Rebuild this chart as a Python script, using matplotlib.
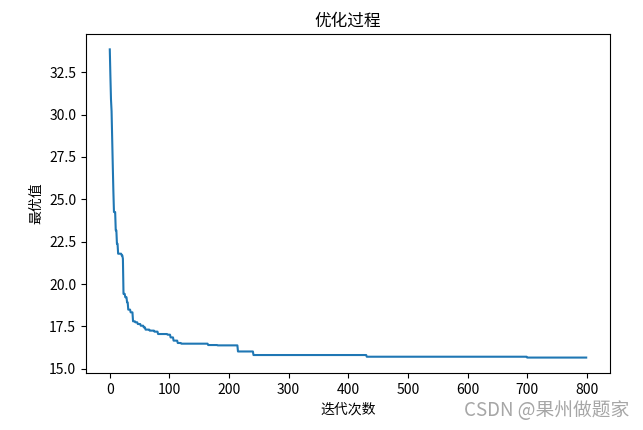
import matplotlib
matplotlib.use('Agg')
from matplotlib import pyplot as plt

plt.rcParams['font.family'] = ['Noto Sans CJK SC', 'DejaVu Sans']
plt.rcParams['axes.unicode_minus'] = False

# iterations where the best value changes, and the value from there on
iters = [0, 1, 2, 3, 4, 5, 6, 7, 10, 12, 14, 20, 22, 23, 26, 29, 31, 35, 39,
         43, 47, 52, 57, 60, 67, 75, 81, 97, 102, 107, 114, 120, 165, 181,
         215, 241, 431, 700, 799]
best = [33.85, 32.3, 30.9, 30.2, 28.6, 27.0, 25.5, 24.25, 23.17, 22.38, 21.79,
        21.69, 21.49, 19.42, 19.22, 18.92, 18.49, 18.33, 17.80, 17.74, 17.64,
        17.54, 17.44, 17.31, 17.25, 17.19, 17.05, 17.01, 16.85, 16.66, 16.52,
        16.48, 16.40, 16.38, 16.02, 15.81, 15.71, 15.66, 15.66]

title = '优化过程'
xlabel = '迭代次数'
ylabel = '最优值'
watermark = 'CSDN @果州做题家'

# per-iteration line: value holds until the iteration before each change
xs, ys = [iters[0]], [best[0]]
for i in range(1, len(iters)):
    if iters[i] - 1 > xs[-1]:
        xs.append(iters[i] - 1)
        ys.append(best[i - 1])
    xs.append(iters[i])
    ys.append(best[i])

fig = plt.figure(figsize=(6.43, 4.30), dpi=100)
ax = fig.add_axes([0.1337, 0.1326, 0.815, 0.7884])

ax.plot(xs, ys, color='#1f77b4', linewidth=1.5)

ax.set_title(title, fontsize=12)
ax.set_xlabel(xlabel, fontsize=10)
ax.set_ylabel(ylabel, fontsize=10)
ax.set_xticks(range(0, 801, 100))
ax.set_yticks([15.0, 17.5, 20.0, 22.5, 25.0, 27.5, 30.0, 32.5])
ax.set_yticklabels(['15.0', '17.5', '20.0', '22.5', '25.0', '27.5', '30.0', '32.5'])

fig.text(0.978, 0.022, watermark, ha='right', va='bottom',
         fontsize=13.5, color='#a6a6a6')

fig.savefig('out.png', dpi=100)
